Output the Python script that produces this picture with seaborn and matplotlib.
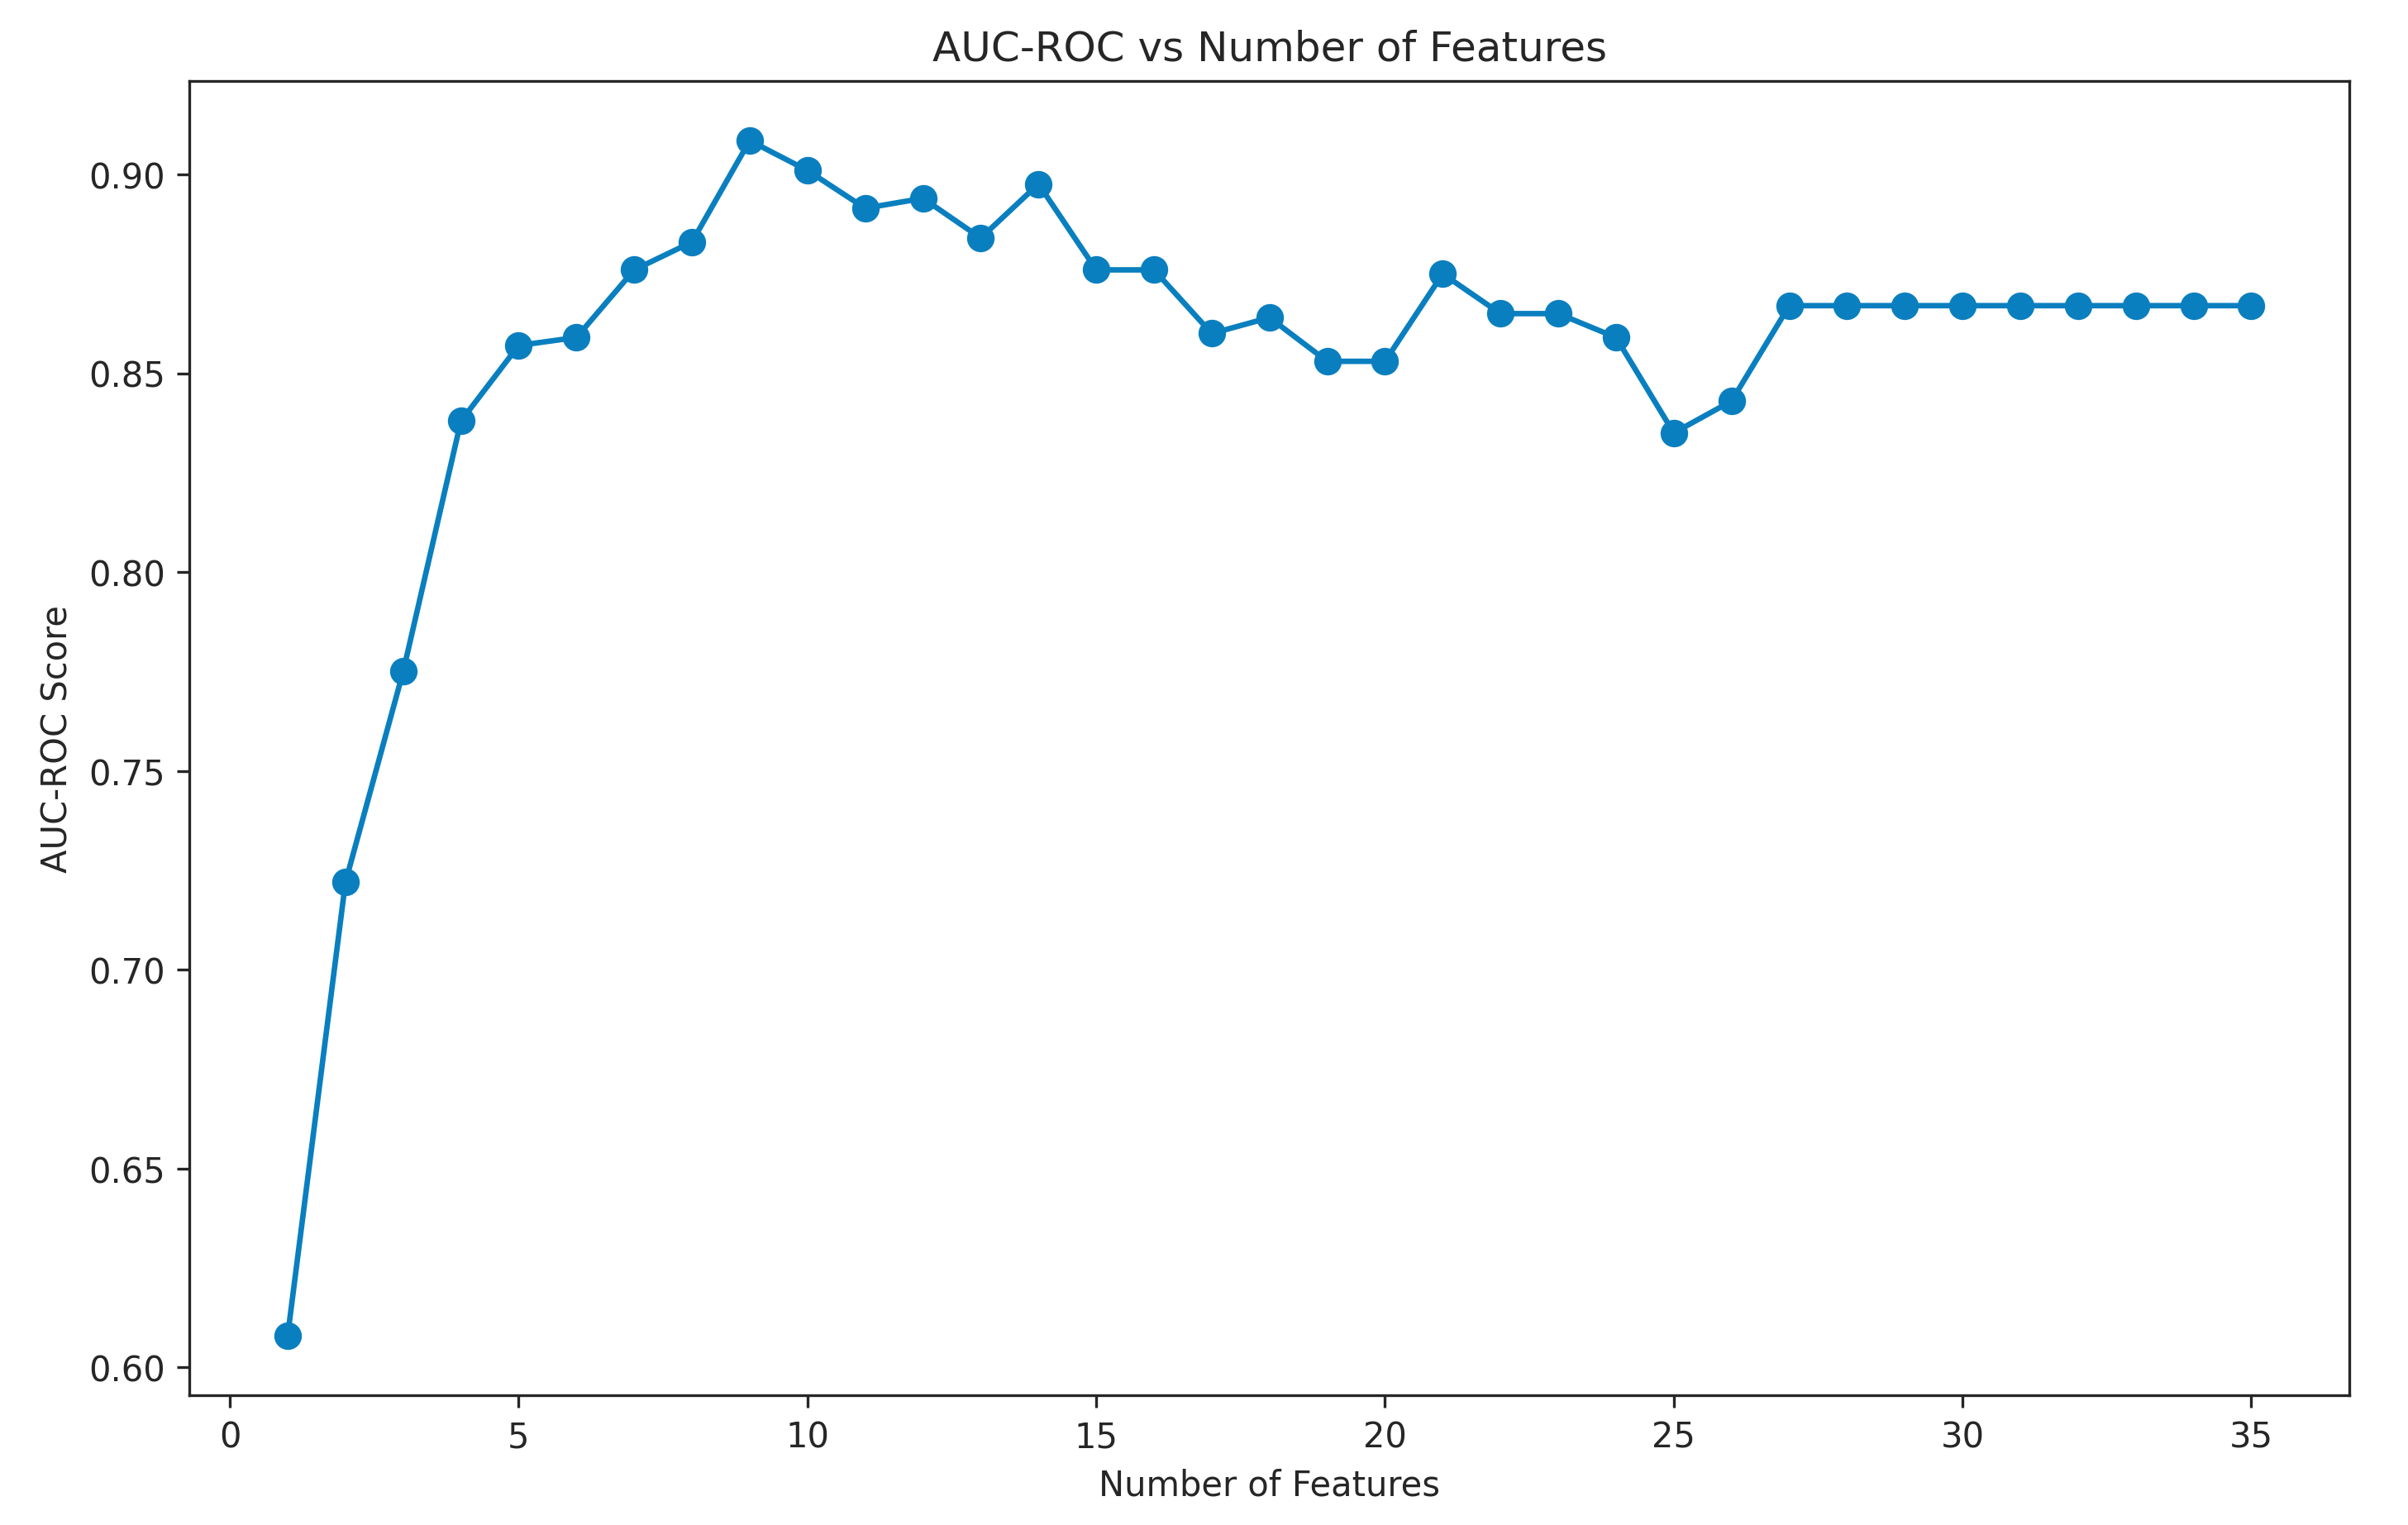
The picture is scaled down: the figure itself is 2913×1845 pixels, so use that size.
import matplotlib
matplotlib.use("Agg")
import matplotlib.pyplot as plt
import seaborn as sns
import pandas as pd

features = list(range(1, 36))
auc = [0.608, 0.722, 0.775, 0.838, 0.857, 0.859, 0.876, 0.883, 0.9085, 0.901,
       0.8915, 0.894, 0.884, 0.8976, 0.876, 0.876, 0.860, 0.864, 0.853, 0.853,
       0.875, 0.865, 0.865, 0.859, 0.835, 0.843, 0.867, 0.867, 0.867, 0.867,
       0.867, 0.867, 0.867, 0.867, 0.867]

df = pd.DataFrame({"n": features, "auc": auc})
sns.set_style("ticks")
plt.rcParams['font.family'] = ['DejaVu Sans']
fig = plt.figure(figsize=(9.71, 6.153), dpi=300)
ax = fig.add_axes([0.0787, 0.085, 0.897, 0.8615])
sns.lineplot(data=df, x="n", y="auc", ax=ax, color="#0a7fbf", marker="o",
             markersize=8, markeredgewidth=0, linewidth=1.6)
ax.set_xticks([0, 5, 10, 15, 20, 25, 30, 35])
ax.set_yticks([0.60, 0.65, 0.70, 0.75, 0.80, 0.85, 0.90])
ax.set_xlabel("Number of Features")
ax.set_ylabel("AUC-ROC Score")
ax.set_title("AUC-ROC vs Number of Features")
for s in ax.spines.values():
    s.set_visible(True)
fig.savefig("out.png", dpi=300)
